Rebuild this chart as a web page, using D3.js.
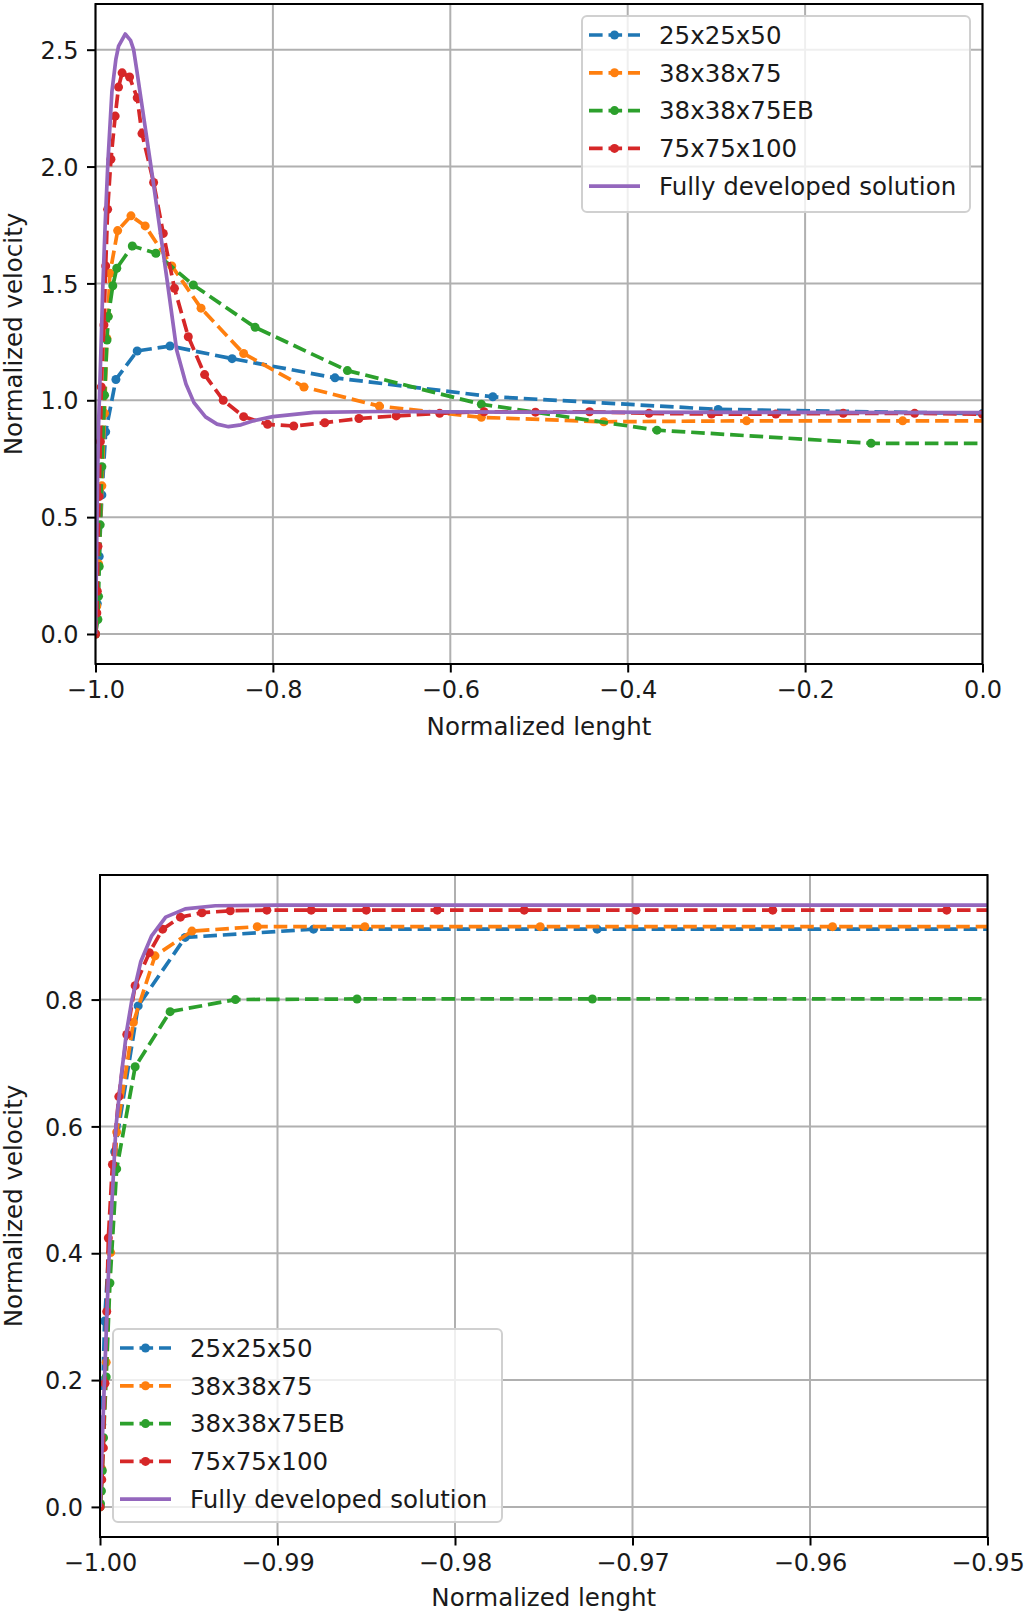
<!DOCTYPE html>
<html><head><meta charset="utf-8">
<script src="https://cdn.jsdelivr.net/npm/d3@7"></script>
<style>
body{margin:0;background:#fff}
svg{display:block}
text{font-family:"DejaVu Sans",sans-serif;fill:#1a1a1a}
</style>
</head><body>
<svg id="chart" width="1025" height="1614"></svg>
<script>
// ---------- data ----------
const seriesNames = ["25x25x50", "38x38x75", "38x38x75EB", "75x75x100", "Fully developed solution"];
const seriesColors = ["#1f77b4", "#ff7f0e", "#2ca02c", "#d62728", "#9467bd"];
const seriesDashed = [true, true, true, true, false];

// top panel: profile, x in [-1,0]
const top25 = [[-1.0,0.0],[-0.998,0.13],[-0.9958,0.332],[-0.9928,0.595],[-0.9885,0.865],[-0.977,1.089],[-0.953,1.211],[-0.916,1.232],[-0.846,1.178],[-0.73,1.096],[-0.552,1.015],[-0.298,0.961],[0.0,0.943]];
const top38 = [[-1.0,0.0],[-0.9985,0.12],[-0.9965,0.3],[-0.9928,0.634],[-0.9898,0.944],[-0.9872,1.265],[-0.986,1.36],[-0.9837,1.543],[-0.975,1.726],[-0.96,1.789],[-0.944,1.746],[-0.914,1.575],[-0.881,1.394],[-0.833,1.2],[-0.765,1.057],[-0.68,0.975],[-0.565,0.927],[-0.427,0.908],[-0.266,0.912],[-0.09,0.912],[0.09,0.912]];
const top38EB = [[-1.0,0.0],[-0.9973,0.062],[-0.9966,0.161],[-0.9958,0.289],[-0.9947,0.467],[-0.9928,0.716],[-0.9898,1.022],[-0.987,1.258],[-0.9856,1.358],[-0.9805,1.49],[-0.976,1.565],[-0.9585,1.66],[-0.932,1.629],[-0.8897,1.493],[-0.82,1.312],[-0.716,1.127],[-0.565,0.983],[-0.367,0.872],[-0.1256,0.816],[0.1256,0.816]];
const top75 = [[-1.0,0.0],[-0.9985,0.09],[-0.998,0.183],[-0.9972,0.375],[-0.996,0.588],[-0.9945,0.823],[-0.9935,1.057],[-0.9905,1.322],[-0.9885,1.575],[-0.9863,1.817],[-0.9826,2.031],[-0.9778,2.216],[-0.974,2.34],[-0.970,2.401],[-0.9616,2.383],[-0.953,2.294],[-0.9476,2.141],[-0.9345,1.932],[-0.9236,1.714],[-0.911,1.479],[-0.8954,1.272],[-0.877,1.11],[-0.856,1.0],[-0.833,0.93],[-0.806,0.897],[-0.7765,0.89],[-0.7415,0.904],[-0.703,0.922],[-0.661,0.933],[-0.612,0.944],[-0.562,0.951],[-0.504,0.949],[-0.443,0.951],[-0.376,0.944],[-0.3055,0.941],[-0.233,0.941],[-0.157,0.944],[-0.0765,0.944],[0.0,0.94]];
const topFull = [[-1.0,0.0],[-0.9988,0.35],[-0.9977,0.65],[-0.9965,0.9],[-0.994,1.2],[-0.9918,1.48],[-0.989,1.76],[-0.986,2.02],[-0.9815,2.32],[-0.977,2.46],[-0.974,2.515],[-0.9665,2.567],[-0.9605,2.54],[-0.957,2.5],[-0.9533,2.408],[-0.9355,1.95],[-0.9187,1.498],[-0.9085,1.215],[-0.898,1.07],[-0.889,0.99],[-0.876,0.929],[-0.863,0.898],[-0.85,0.887],[-0.836,0.895],[-0.822,0.912],[-0.8,0.93],[-0.754,0.948],[-0.68,0.952],[-0.6,0.95],[0.0,0.947]];

// bottom panel: near-wall detail, x in [-1,-0.95]
const bot25 = [[-1.0,0.0],[-0.9999,0.13],[-0.99974,0.293],[-0.99917,0.56],[-0.99785,0.79],[-0.9952,0.898],[-0.98797,0.911],[-0.97199,0.911],[-0.94,0.911]];
const bot38 = [[-1.0,0.0],[-0.9999,0.06],[-0.99965,0.228],[-0.9994,0.401],[-0.99906,0.591],[-0.99812,0.764],[-0.9969,0.869],[-0.99482,0.908],[-0.99114,0.915],[-0.98508,0.915],[-0.9752,0.915],[-0.95873,0.915],[-0.9313,0.915]];
const bot38EB = [[-1.0,0.0],[-0.99997,0.005],[-0.99992,0.025],[-0.99987,0.057],[-0.9998,0.109],[-0.99965,0.205],[-0.99944,0.353],[-0.99906,0.533],[-0.99802,0.694],[-0.99605,0.781],[-0.99237,0.8],[-0.98552,0.801],[-0.97226,0.801],[-0.947,0.801]];
const bot75 = [[-1.0,0.0],[-0.9999,0.043],[-0.99981,0.093],[-0.99972,0.195],[-0.99962,0.308],[-0.99953,0.424],[-0.9993,0.54],[-0.99894,0.647],[-0.99849,0.745],[-0.99802,0.822],[-0.99722,0.874],[-0.99647,0.911],[-0.99547,0.93],[-0.99426,0.937],[-0.99266,0.94],[-0.9906,0.941],[-0.9881,0.941],[-0.985,0.941],[-0.981,0.941],[-0.9761,0.941],[-0.9698,0.941],[-0.9621,0.941],[-0.9523,0.941],[-0.94,0.941]];
const botFull = [[-1.0,0.0],[-0.99975,0.2],[-0.99948,0.4],[-0.9991,0.6],[-0.9988,0.68],[-0.9985,0.75],[-0.9982,0.8],[-0.9977,0.86],[-0.9971,0.9],[-0.9963,0.93],[-0.9952,0.943],[-0.9935,0.948],[-0.99,0.949],[-0.95,0.949]];

const topXTicks = [-1.0, -0.8, -0.6, -0.4, -0.2, 0.0];
const topYTicks = [0.0, 0.5, 1.0, 1.5, 2.0, 2.5];
const botXTicks = [-1.00, -0.99, -0.98, -0.97, -0.96, -0.95];
const botYTicks = [0.0, 0.2, 0.4, 0.6, 0.8];
const xLabel = "Normalized lenght";
const yLabel = "Normalized velocity";

// ---------- drawing ----------
const svg = d3.select("#chart");
const FS = 24.5;
const TFS = 24;
const MR = 4.5;

function panel(cfg, id) {
  const x = d3.scaleLinear().domain(cfg.xDomain).range([cfg.l, cfg.r]);
  const y = d3.scaleLinear().domain(cfg.yDomain).range([cfg.b, cfg.t]);
  const g = svg.append("g");

  g.append("clipPath").attr("id", "clip" + id)
    .append("rect").attr("x", cfg.l).attr("y", cfg.t)
    .attr("width", cfg.r - cfg.l).attr("height", cfg.b - cfg.t);

  // grid
  g.append("g").selectAll("line").data(cfg.xTicks).join("line")
    .attr("x1", d => x(d)).attr("x2", d => x(d)).attr("y1", cfg.t).attr("y2", cfg.b)
    .attr("stroke", "#b0b0b0").attr("stroke-width", 2);
  g.append("g").selectAll("line").data(cfg.yTicks).join("line")
    .attr("y1", d => y(d)).attr("y2", d => y(d)).attr("x1", cfg.l).attr("x2", cfg.r)
    .attr("stroke", "#b0b0b0").attr("stroke-width", 2);

  // series
  const line = d3.line().x(d => x(d[0])).y(d => y(d[1]));
  const plot = g.append("g").attr("clip-path", `url(#clip${id})`);
  cfg.series.forEach((data, i) => {
    const sg = plot.append("g");
    sg.append("path").attr("d", line(data)).attr("fill", "none")
      .attr("stroke", seriesColors[i]).attr("stroke-width", 3.7)
      .attr("stroke-dasharray", seriesDashed[i] ? "13.6,5.9" : null)
      .attr("stroke-linejoin", "round");
    if (seriesDashed[i]) {
      sg.selectAll("circle").data(data).join("circle")
        .attr("cx", d => x(d[0])).attr("cy", d => y(d[1])).attr("r", MR)
        .attr("fill", seriesColors[i]);
    }
  });

  // frame
  g.append("rect").attr("x", cfg.l).attr("y", cfg.t)
    .attr("width", cfg.r - cfg.l).attr("height", cfg.b - cfg.t)
    .attr("fill", "none").attr("stroke", "#000").attr("stroke-width", 2);

  // axes
  const ax = g.append("g").attr("transform", `translate(0,${cfg.b})`)
    .call(d3.axisBottom(x).tickValues(cfg.xTicks).tickFormat(d3.format(cfg.xFmt))
      .tickSize(8.5).tickPadding(8.4).tickSizeOuter(0));
  const ay = g.append("g").attr("transform", `translate(${cfg.l},0)`)
    .call(d3.axisLeft(y).tickValues(cfg.yTicks).tickFormat(d3.format(cfg.yFmt))
      .tickSize(8.5).tickPadding(8.4).tickSizeOuter(0));
  [ax, ay].forEach(a => {
    a.select(".domain").remove();
    a.selectAll(".tick line").attr("stroke", "#000").attr("stroke-width", 2);
    a.selectAll(".tick text").attr("font-size", TFS).attr("font-family", "DejaVu Sans").attr("fill", "#1a1a1a");
  });
  ay.selectAll(".tick text").attr("dy", "0.36em");

  // axis labels
  g.append("text").attr("x", (cfg.l + cfg.r) / 2).attr("y", cfg.xLabelY)
    .attr("text-anchor", "middle").attr("font-size", FS).text(xLabel);
  g.append("text").attr("transform", `translate(22,${(cfg.t + cfg.b) / 2}) rotate(-90)`)
    .attr("text-anchor", "middle").attr("font-size", FS).text(yLabel);

  // legend
  const L = cfg.legend;
  const lg = g.append("g");
  lg.append("rect").attr("x", L.x).attr("y", L.y).attr("width", L.w).attr("height", L.h)
    .attr("rx", 5).attr("fill", "#fff").attr("fill-opacity", 0.8)
    .attr("stroke", "#d0d0d0").attr("stroke-width", 2);
  seriesNames.forEach((name, i) => {
    const cy = L.y + 19 + i * 37.8;
    const h0 = L.x + 7, h1 = L.x + 58;
    lg.append("line").attr("x1", h0).attr("x2", h1).attr("y1", cy).attr("y2", cy)
      .attr("stroke", seriesColors[i]).attr("stroke-width", 3.7)
      .attr("stroke-dasharray", seriesDashed[i] ? "13.6,5.9" : null);
    if (seriesDashed[i]) {
      lg.append("circle").attr("cx", (h0 + h1) / 2).attr("cy", cy).attr("r", MR).attr("fill", seriesColors[i]);
    }
    lg.append("text").attr("x", L.x + 77).attr("y", cy).attr("dy", "0.36em")
      .attr("font-size", FS).text(name);
  });
}

panel({
  l: 95.5, r: 982.5, t: 4, b: 664,
  xDomain: [-1, 0], yDomain: [-0.1284, 2.6955],
  xTicks: topXTicks, yTicks: topYTicks, xFmt: ".1f", yFmt: ".1f",
  series: [top25, top38, top38EB, top75, topFull],
  xLabelY: 735,
  legend: { x: 582, y: 16, w: 388, h: 196 }
}, 1);

panel({
  l: 100, r: 987.5, t: 875, b: 1537,
  xDomain: [-1, -0.95], yDomain: [-0.04745, 0.99645],
  xTicks: botXTicks, yTicks: botYTicks, xFmt: ".2f", yFmt: ".1f",
  series: [bot25, bot38, bot38EB, bot75, botFull],
  xLabelY: 1606,
  legend: { x: 113, y: 1329, w: 389, h: 193 }
}, 2);
</script>
</body></html>
